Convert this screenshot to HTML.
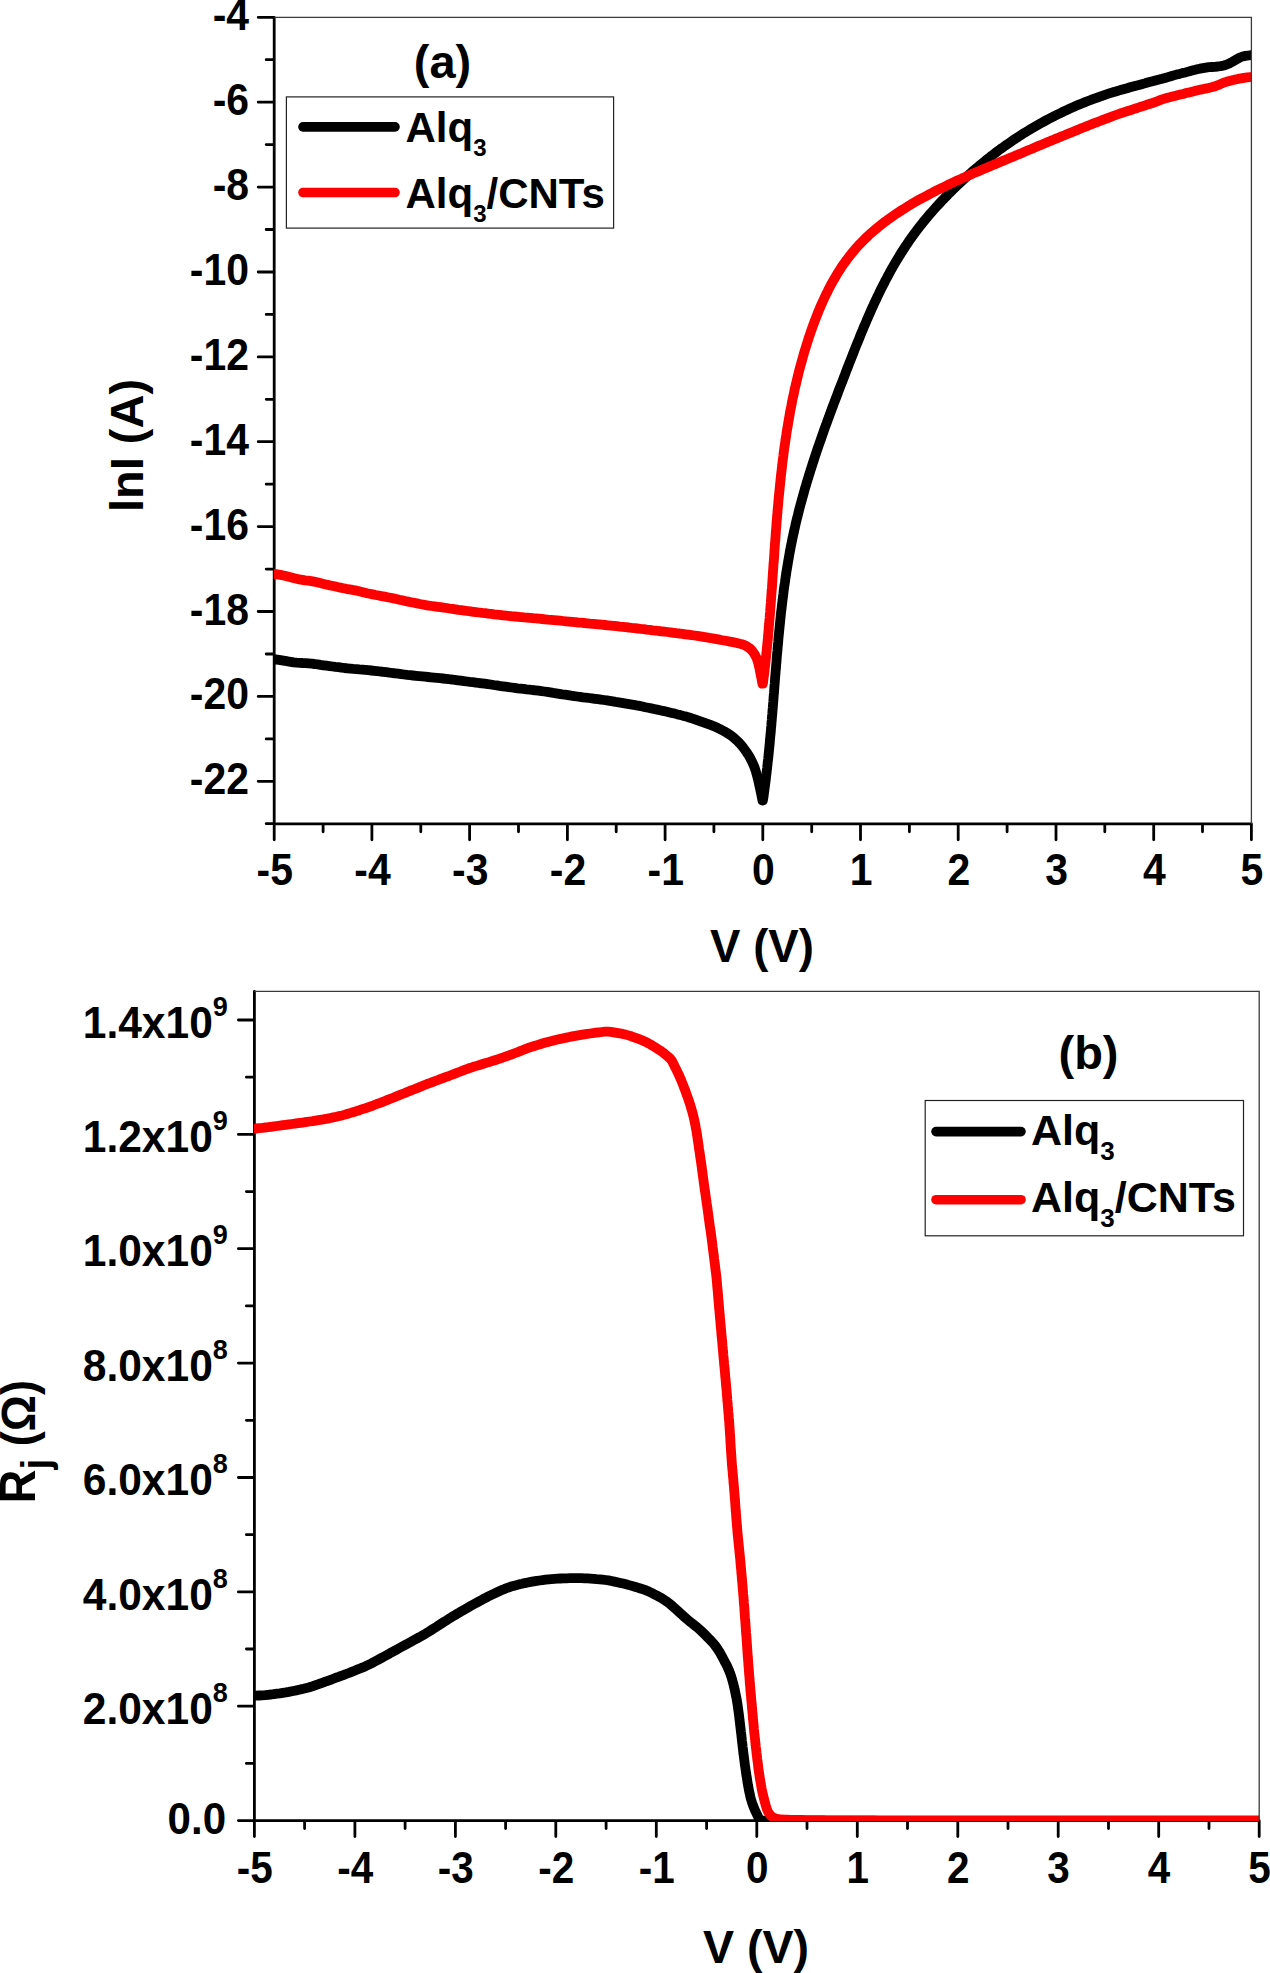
<!DOCTYPE html>
<html><head><meta charset="utf-8"><title>Alq3 plots</title>
<style>html,body{margin:0;padding:0;background:#fff;width:1270px;height:1973px;overflow:hidden}svg{display:block}</style>
</head><body>
<svg width="1270" height="1973" viewBox="0 0 1270 1973"><clipPath id="ca"><rect x="273.7" y="17.3" width="977.7" height="807.3000000000001"/></clipPath>
<clipPath id="cb"><rect x="253.9" y="991.4" width="1005.3000000000001" height="829.6"/></clipPath>
<path d="M274.2,17.3 V823.8 M274.2,823.8 H1251.4 M258.2,17.3 H274.2 M266.2,59.7 H274.2 M258.2,102.2 H274.2 M266.2,144.6 H274.2 M258.2,187.1 H274.2 M266.2,229.5 H274.2 M258.2,272.0 H274.2 M266.2,314.4 H274.2 M258.2,356.9 H274.2 M266.2,399.3 H274.2 M258.2,441.7 H274.2 M266.2,484.2 H274.2 M258.2,526.6 H274.2 M266.2,569.1 H274.2 M258.2,611.5 H274.2 M266.2,654.0 H274.2 M258.2,696.4 H274.2 M266.2,738.9 H274.2 M258.2,781.3 H274.2 M266.2,823.7 H274.2 M274.2,823.8 V839.8 M323.1,823.8 V831.8 M371.9,823.8 V839.8 M420.8,823.8 V831.8 M469.6,823.8 V839.8 M518.5,823.8 V831.8 M567.4,823.8 V839.8 M616.2,823.8 V831.8 M665.1,823.8 V839.8 M713.9,823.8 V831.8 M762.8,823.8 V839.8 M811.7,823.8 V831.8 M860.5,823.8 V839.8 M909.4,823.8 V831.8 M958.2,823.8 V839.8 M1007.1,823.8 V831.8 M1056.0,823.8 V839.8 M1104.8,823.8 V831.8 M1153.7,823.8 V839.8 M1202.5,823.8 V831.8 M1251.4,823.8 V839.8" fill="none" stroke="#000" stroke-width="2.8" stroke-linecap="round"/>
<text transform="translate(249.0,30.3) scale(0.93,1)" text-anchor="end" font-family="Liberation Sans, sans-serif" font-weight="bold" font-size="44">-4</text>
<text transform="translate(249.0,115.2) scale(0.93,1)" text-anchor="end" font-family="Liberation Sans, sans-serif" font-weight="bold" font-size="44">-6</text>
<text transform="translate(249.0,200.1) scale(0.93,1)" text-anchor="end" font-family="Liberation Sans, sans-serif" font-weight="bold" font-size="44">-8</text>
<text transform="translate(249.0,285.0) scale(0.93,1)" text-anchor="end" font-family="Liberation Sans, sans-serif" font-weight="bold" font-size="44">-10</text>
<text transform="translate(249.0,369.9) scale(0.93,1)" text-anchor="end" font-family="Liberation Sans, sans-serif" font-weight="bold" font-size="44">-12</text>
<text transform="translate(249.0,454.7) scale(0.93,1)" text-anchor="end" font-family="Liberation Sans, sans-serif" font-weight="bold" font-size="44">-14</text>
<text transform="translate(249.0,539.6) scale(0.93,1)" text-anchor="end" font-family="Liberation Sans, sans-serif" font-weight="bold" font-size="44">-16</text>
<text transform="translate(249.0,624.5) scale(0.93,1)" text-anchor="end" font-family="Liberation Sans, sans-serif" font-weight="bold" font-size="44">-18</text>
<text transform="translate(249.0,709.4) scale(0.93,1)" text-anchor="end" font-family="Liberation Sans, sans-serif" font-weight="bold" font-size="44">-20</text>
<text transform="translate(249.0,794.3) scale(0.93,1)" text-anchor="end" font-family="Liberation Sans, sans-serif" font-weight="bold" font-size="44">-22</text>
<text transform="translate(274.8,884.8) scale(0.93,1)" text-anchor="middle" font-family="Liberation Sans, sans-serif" font-weight="bold" font-size="44">-5</text>
<text transform="translate(372.5,884.8) scale(0.93,1)" text-anchor="middle" font-family="Liberation Sans, sans-serif" font-weight="bold" font-size="44">-4</text>
<text transform="translate(470.2,884.8) scale(0.93,1)" text-anchor="middle" font-family="Liberation Sans, sans-serif" font-weight="bold" font-size="44">-3</text>
<text transform="translate(568.0,884.8) scale(0.93,1)" text-anchor="middle" font-family="Liberation Sans, sans-serif" font-weight="bold" font-size="44">-2</text>
<text transform="translate(665.7,884.8) scale(0.93,1)" text-anchor="middle" font-family="Liberation Sans, sans-serif" font-weight="bold" font-size="44">-1</text>
<text transform="translate(763.4,884.8) scale(0.93,1)" text-anchor="middle" font-family="Liberation Sans, sans-serif" font-weight="bold" font-size="44">0</text>
<text transform="translate(861.1,884.8) scale(0.93,1)" text-anchor="middle" font-family="Liberation Sans, sans-serif" font-weight="bold" font-size="44">1</text>
<text transform="translate(958.8,884.8) scale(0.93,1)" text-anchor="middle" font-family="Liberation Sans, sans-serif" font-weight="bold" font-size="44">2</text>
<text transform="translate(1056.6,884.8) scale(0.93,1)" text-anchor="middle" font-family="Liberation Sans, sans-serif" font-weight="bold" font-size="44">3</text>
<text transform="translate(1154.3,884.8) scale(0.93,1)" text-anchor="middle" font-family="Liberation Sans, sans-serif" font-weight="bold" font-size="44">4</text>
<text transform="translate(1252.0,884.8) scale(0.93,1)" text-anchor="middle" font-family="Liberation Sans, sans-serif" font-weight="bold" font-size="44">5</text>
<text transform="translate(762.0,962.0) scale(0.97,1)" text-anchor="middle" font-family="Liberation Sans, sans-serif" font-weight="bold" font-size="47">V (V)</text>
<text transform="translate(143,445.5) rotate(-90)" text-anchor="middle" font-family="Liberation Sans, sans-serif" font-weight="bold" font-size="47">lnI (A)</text>
<text transform="translate(442.5,78.2) scale(1.0,1)" text-anchor="middle" font-family="Liberation Sans, sans-serif" font-weight="bold" font-size="47">(a)</text>
<rect x="286.4" y="96.9" width="327.2" height="131.2" fill="#fff" stroke="#222" stroke-width="1.2"/>
<path d="M303,126.9 H395" stroke="#000" stroke-width="9.6" stroke-linecap="round"/>
<path d="M303,192.5 H395" stroke="#f00" stroke-width="9.6" stroke-linecap="round"/>
<text transform="translate(405.5,141.5) scale(1.0,1)" font-family="Liberation Sans, sans-serif" font-weight="bold" font-size="42">Alq<tspan font-size="24" dy="14">3</tspan></text>
<text transform="translate(405.5,207.8) scale(1.0,1)" font-family="Liberation Sans, sans-serif" font-weight="bold" font-size="42">Alq<tspan font-size="24" dy="14">3</tspan><tspan dy="-14">/CNTs</tspan></text>
<path d="M254.4,991.4 V1820.6 M254.4,1820.6 H1259.2 M238.4,1820.6 H254.4 M246.4,1763.4 H254.4 M238.4,1706.2 H254.4 M246.4,1649.0 H254.4 M238.4,1591.9 H254.4 M246.4,1534.7 H254.4 M238.4,1477.5 H254.4 M246.4,1420.3 H254.4 M238.4,1363.1 H254.4 M246.4,1305.9 H254.4 M238.4,1248.7 H254.4 M246.4,1191.6 H254.4 M238.4,1134.4 H254.4 M246.4,1077.2 H254.4 M238.4,1020.0 H254.4 M254.4,1820.6 V1836.6 M304.6,1820.6 V1828.6 M354.9,1820.6 V1836.6 M405.1,1820.6 V1828.6 M455.4,1820.6 V1836.6 M505.6,1820.6 V1828.6 M555.8,1820.6 V1836.6 M606.1,1820.6 V1828.6 M656.3,1820.6 V1836.6 M706.6,1820.6 V1828.6 M756.8,1820.6 V1836.6 M807.0,1820.6 V1828.6 M857.3,1820.6 V1836.6 M907.5,1820.6 V1828.6 M957.8,1820.6 V1836.6 M1008.0,1820.6 V1828.6 M1058.2,1820.6 V1836.6 M1108.5,1820.6 V1828.6 M1158.7,1820.6 V1836.6 M1209.0,1820.6 V1828.6 M1259.2,1820.6 V1836.6" fill="none" stroke="#000" stroke-width="2.8" stroke-linecap="round"/>
<text transform="translate(226.1,1833.6) scale(0.957,1)" text-anchor="end" font-family="Liberation Sans, sans-serif" font-weight="bold" font-size="44">0.0</text>
<text transform="translate(227.9,1723.9) scale(0.967,1)" text-anchor="end" font-family="Liberation Sans, sans-serif" font-weight="bold" font-size="44">2.0x10<tspan font-size="28" dy="-22">8</tspan></text>
<text transform="translate(227.9,1609.6) scale(0.967,1)" text-anchor="end" font-family="Liberation Sans, sans-serif" font-weight="bold" font-size="44">4.0x10<tspan font-size="28" dy="-22">8</tspan></text>
<text transform="translate(227.9,1495.2) scale(0.967,1)" text-anchor="end" font-family="Liberation Sans, sans-serif" font-weight="bold" font-size="44">6.0x10<tspan font-size="28" dy="-22">8</tspan></text>
<text transform="translate(227.9,1380.8) scale(0.967,1)" text-anchor="end" font-family="Liberation Sans, sans-serif" font-weight="bold" font-size="44">8.0x10<tspan font-size="28" dy="-22">8</tspan></text>
<text transform="translate(227.9,1266.4) scale(0.967,1)" text-anchor="end" font-family="Liberation Sans, sans-serif" font-weight="bold" font-size="44">1.0x10<tspan font-size="28" dy="-22">9</tspan></text>
<text transform="translate(227.9,1152.1) scale(0.967,1)" text-anchor="end" font-family="Liberation Sans, sans-serif" font-weight="bold" font-size="44">1.2x10<tspan font-size="28" dy="-22">9</tspan></text>
<text transform="translate(227.9,1037.7) scale(0.967,1)" text-anchor="end" font-family="Liberation Sans, sans-serif" font-weight="bold" font-size="44">1.4x10<tspan font-size="28" dy="-22">9</tspan></text>
<text transform="translate(254.8,1883.3) scale(0.92,1)" text-anchor="middle" font-family="Liberation Sans, sans-serif" font-weight="bold" font-size="44">-5</text>
<text transform="translate(355.3,1883.3) scale(0.92,1)" text-anchor="middle" font-family="Liberation Sans, sans-serif" font-weight="bold" font-size="44">-4</text>
<text transform="translate(455.8,1883.3) scale(0.92,1)" text-anchor="middle" font-family="Liberation Sans, sans-serif" font-weight="bold" font-size="44">-3</text>
<text transform="translate(556.2,1883.3) scale(0.92,1)" text-anchor="middle" font-family="Liberation Sans, sans-serif" font-weight="bold" font-size="44">-2</text>
<text transform="translate(656.7,1883.3) scale(0.92,1)" text-anchor="middle" font-family="Liberation Sans, sans-serif" font-weight="bold" font-size="44">-1</text>
<text transform="translate(757.2,1883.3) scale(0.92,1)" text-anchor="middle" font-family="Liberation Sans, sans-serif" font-weight="bold" font-size="44">0</text>
<text transform="translate(857.7,1883.3) scale(0.92,1)" text-anchor="middle" font-family="Liberation Sans, sans-serif" font-weight="bold" font-size="44">1</text>
<text transform="translate(958.2,1883.3) scale(0.92,1)" text-anchor="middle" font-family="Liberation Sans, sans-serif" font-weight="bold" font-size="44">2</text>
<text transform="translate(1058.6,1883.3) scale(0.92,1)" text-anchor="middle" font-family="Liberation Sans, sans-serif" font-weight="bold" font-size="44">3</text>
<text transform="translate(1159.1,1883.3) scale(0.92,1)" text-anchor="middle" font-family="Liberation Sans, sans-serif" font-weight="bold" font-size="44">4</text>
<text transform="translate(1259.6,1883.3) scale(0.92,1)" text-anchor="middle" font-family="Liberation Sans, sans-serif" font-weight="bold" font-size="44">5</text>
<text transform="translate(756.0,1963.0) scale(0.99,1)" text-anchor="middle" font-family="Liberation Sans, sans-serif" font-weight="bold" font-size="47">V (V)</text>
<text transform="translate(35,1503.5) rotate(-90) scale(0.94,1)" font-family="Liberation Sans, sans-serif" font-weight="bold" font-size="50">R<tspan font-size="41" dy="15">j</tspan><tspan font-size="48" dy="-15"> (&#937;)</tspan></text>
<text transform="translate(1088.5,1069.0) scale(1.0,1)" text-anchor="middle" font-family="Liberation Sans, sans-serif" font-weight="bold" font-size="47">(b)</text>
<rect x="925.2" y="1100.5" width="318.3" height="135.3" fill="#fff" stroke="#222" stroke-width="1.2"/>
<path d="M936,1131.6 H1021" stroke="#000" stroke-width="9.6" stroke-linecap="round"/>
<path d="M936,1199.7 H1021" stroke="#f00" stroke-width="9.6" stroke-linecap="round"/>
<text transform="translate(1031.0,1145.0) scale(1.0,1)" font-family="Liberation Sans, sans-serif" font-weight="bold" font-size="43">Alq<tspan font-size="26" dy="15">3</tspan></text>
<text transform="translate(1031.0,1212.0) scale(1.0,1)" font-family="Liberation Sans, sans-serif" font-weight="bold" font-size="43">Alq<tspan font-size="26" dy="15">3</tspan><tspan dy="-15">/CNTs</tspan></text>
<path d="M270.0,659.0 L273.0,659.2 L276.0,659.5 L279.0,659.8 L281.9,660.3 L284.9,660.8 L287.8,661.4 L290.7,661.9 L293.7,662.4 L296.7,662.7 L299.6,662.8 L302.6,663.0 L305.6,663.1 L308.6,663.4 L311.6,663.7 L314.6,664.0 L317.6,664.4 L320.6,664.9 L323.5,665.3 L326.5,665.7 L329.5,666.1 L332.5,666.5 L335.4,666.9 L338.4,667.2 L341.4,667.6 L344.4,668.0 L347.4,668.3 L350.4,668.6 L353.4,668.9 L356.4,669.1 L359.4,669.4 L362.4,669.6 L365.3,669.9 L368.3,670.2 L371.3,670.5 L374.3,670.8 L377.3,671.1 L380.3,671.5 L383.3,671.8 L386.3,672.2 L389.2,672.6 L392.2,673.0 L395.2,673.3 L398.2,673.7 L401.2,674.1 L404.1,674.5 L407.1,674.9 L410.1,675.2 L413.1,675.5 L416.1,675.8 L419.1,676.1 L422.1,676.4 L425.1,676.7 L428.1,677.0 L431.0,677.3 L434.0,677.6 L437.0,677.9 L440.0,678.2 L443.0,678.5 L446.0,678.8 L449.0,679.2 L452.0,679.5 L454.9,679.9 L457.9,680.3 L460.9,680.7 L463.9,681.1 L466.9,681.5 L469.8,681.9 L472.8,682.2 L475.8,682.6 L478.8,683.0 L481.8,683.3 L484.8,683.7 L487.7,684.1 L490.7,684.5 L493.7,685.0 L496.7,685.4 L499.6,685.9 L502.6,686.3 L505.6,686.7 L508.6,687.1 L511.5,687.5 L514.5,687.9 L517.5,688.3 L520.5,688.6 L523.5,688.9 L526.5,689.3 L529.5,689.6 L532.4,690.0 L535.4,690.3 L538.4,690.7 L541.4,691.1 L544.4,691.5 L547.3,691.9 L550.3,692.4 L553.3,692.9 L556.2,693.3 L559.2,693.8 L562.2,694.3 L565.1,694.7 L568.1,695.2 L571.1,695.7 L574.1,696.1 L577.0,696.5 L580.0,696.9 L583.0,697.3 L586.0,697.6 L589.0,698.0 L591.9,698.4 L594.9,698.8 L597.9,699.2 L600.9,699.6 L603.9,700.0 L606.8,700.4 L609.8,700.9 L612.8,701.4 L615.7,701.9 L618.7,702.3 L621.7,702.8 L624.6,703.3 L627.6,703.8 L630.6,704.3 L633.5,704.8 L636.5,705.4 L639.4,705.9 L642.4,706.5 L645.3,707.2 L648.3,707.8 L651.2,708.4 L654.1,709.0 L657.1,709.6 L660.0,710.2 L663.0,710.9 L665.9,711.5 L668.8,712.2 L671.7,712.9 L674.7,713.6 L677.6,714.4 L680.5,715.1 L683.4,715.9 L686.3,716.6 L689.2,717.5 L692.0,718.4 L694.9,719.4 L697.7,720.4 L700.5,721.4 L703.4,722.4 L706.2,723.4 L709.0,724.4 L711.8,725.4 L714.6,726.6 L717.3,727.8 L720.1,729.1 L722.7,730.5 L725.3,731.9 L727.9,733.5 L730.4,735.1 L732.8,736.9 L735.0,738.9 L737.3,740.9 L739.4,743.0 L741.4,745.2 L743.2,747.5 L745.0,750.0 L746.7,752.4 L748.4,754.9 L749.9,757.5 L751.3,760.2 L752.6,762.9 L753.8,765.6 L754.9,768.4 L755.8,771.2 L756.6,774.1 L757.4,777.0 L758.1,779.9 L758.8,782.9 L759.4,785.8 L760.1,788.7 L760.7,791.7 L761.3,794.6 L761.9,797.6 L762.4,800.5 L762.9,800.5 L763.4,797.5 L763.8,794.5 L764.2,791.5 L764.6,788.5 L765.0,785.6 L765.4,782.6 L765.8,779.6 L766.1,776.6 L766.5,773.6 L766.8,770.6 L767.2,767.6 L767.5,764.6 L767.8,761.6 L768.2,758.6 L768.5,755.6 L768.8,752.6 L769.1,749.6 L769.4,746.6 L769.7,743.6 L769.9,740.6 L770.2,737.6 L770.5,734.6 L770.8,731.6 L771.0,728.6 L771.3,725.7 L771.5,722.7 L771.8,719.7 L772.0,716.7 L772.3,713.7 L772.5,710.7 L772.8,707.7 L773.0,704.7 L773.3,701.7 L773.5,698.7 L773.7,695.7 L774.0,692.7 L774.2,689.7 L774.4,686.7 L774.7,683.7 L774.9,680.7 L775.1,677.8 L775.4,674.8 L775.6,671.8 L775.9,668.8 L776.1,665.8 L776.4,662.8 L776.6,659.8 L776.8,656.8 L777.1,653.8 L777.4,650.9 L777.6,647.9 L777.9,644.9 L778.2,641.9 L778.4,638.9 L778.7,636.0 L779.0,633.0 L779.3,630.0 L779.6,627.0 L779.9,624.0 L780.2,621.1 L780.5,618.1 L780.8,615.1 L781.1,612.2 L781.5,609.2 L781.8,606.2 L782.2,603.2 L782.5,600.3 L782.9,597.3 L783.3,594.3 L783.6,591.4 L784.0,588.4 L784.4,585.5 L784.9,582.5 L785.3,579.5 L785.7,576.6 L786.2,573.6 L786.6,570.7 L787.1,567.7 L787.6,564.8 L788.1,561.8 L788.6,558.9 L789.1,556.0 L789.6,553.0 L790.2,550.1 L790.7,547.1 L791.3,544.2 L791.9,541.3 L792.5,538.3 L793.1,535.4 L793.8,532.5 L794.4,529.5 L795.1,526.6 L795.7,523.7 L796.4,520.8 L797.1,517.9 L797.9,514.9 L798.6,512.0 L799.3,509.1 L800.1,506.2 L800.9,503.3 L801.7,500.4 L802.5,497.5 L803.3,494.6 L804.1,491.7 L804.9,488.8 L805.8,485.9 L806.6,483.0 L807.5,480.1 L808.4,477.2 L809.3,474.3 L810.2,471.4 L811.1,468.5 L812.0,465.7 L812.9,462.8 L813.9,459.9 L814.8,457.0 L815.8,454.1 L816.7,451.3 L817.7,448.4 L818.7,445.5 L819.7,442.7 L820.7,439.8 L821.7,436.9 L822.7,434.1 L823.7,431.2 L824.7,428.4 L825.7,425.5 L826.8,422.7 L827.8,419.8 L828.9,417.0 L829.9,414.1 L831.0,411.3 L832.0,408.4 L833.1,405.6 L834.1,402.8 L835.2,399.9 L836.3,397.1 L837.4,394.3 L838.4,391.4 L839.5,388.6 L840.6,385.8 L841.7,383.0 L842.8,380.2 L843.9,377.3 L845.0,374.5 L846.0,371.7 L847.1,368.9 L848.2,366.1 L849.3,363.3 L850.4,360.5 L851.5,357.7 L852.6,354.9 L853.7,352.1 L854.8,349.3 L855.9,346.5 L857.0,343.7 L858.2,341.0 L859.3,338.2 L860.4,335.4 L861.5,332.7 L862.7,329.9 L863.8,327.1 L865.0,324.4 L866.2,321.6 L867.3,318.9 L868.5,316.2 L869.7,313.5 L870.9,310.7 L872.1,308.0 L873.4,305.3 L874.6,302.6 L875.9,299.9 L877.1,297.2 L878.4,294.6 L879.7,291.9 L881.0,289.2 L882.3,286.6 L883.7,284.0 L885.0,281.3 L886.4,278.7 L887.8,276.1 L889.2,273.5 L890.6,270.9 L892.1,268.3 L893.5,265.7 L895.0,263.2 L896.5,260.6 L898.1,258.1 L899.6,255.5 L901.2,253.0 L902.8,250.5 L904.4,248.0 L906.0,245.5 L907.7,243.1 L909.4,240.6 L911.1,238.2 L912.8,235.7 L914.6,233.3 L916.4,230.9 L918.2,228.5 L920.0,226.1 L921.9,223.8 L923.8,221.4 L925.7,219.1 L927.6,216.8 L929.6,214.4 L931.6,212.2 L933.6,209.9 L935.6,207.6 L937.7,205.4 L939.8,203.1 L941.8,200.9 L944.0,198.7 L946.1,196.5 L948.2,194.3 L950.4,192.2 L952.5,190.0 L954.7,187.9 L956.9,185.8 L959.1,183.7 L961.3,181.6 L963.5,179.6 L965.7,177.5 L968.0,175.5 L970.3,173.5 L972.5,171.5 L974.8,169.5 L977.1,167.6 L979.4,165.6 L981.7,163.7 L984.1,161.8 L986.4,159.9 L988.8,158.0 L991.1,156.2 L993.5,154.3 L995.9,152.5 L998.3,150.7 L1000.7,148.9 L1003.2,147.2 L1005.6,145.4 L1008.1,143.7 L1010.6,142.0 L1013.0,140.3 L1015.5,138.6 L1018.1,137.0 L1020.6,135.3 L1023.1,133.7 L1025.7,132.1 L1028.2,130.6 L1030.8,129.0 L1033.4,127.5 L1036.0,126.0 L1038.6,124.5 L1041.2,123.0 L1043.8,121.6 L1046.5,120.1 L1049.1,118.7 L1051.8,117.3 L1054.5,116.0 L1057.2,114.6 L1059.9,113.3 L1062.6,112.0 L1065.3,110.7 L1068.0,109.5 L1070.7,108.2 L1073.5,107.0 L1076.2,105.8 L1079.0,104.6 L1081.8,103.5 L1084.5,102.4 L1087.3,101.3 L1090.1,100.2 L1092.9,99.1 L1095.8,98.1 L1098.6,97.1 L1101.4,96.1 L1104.3,95.1 L1107.1,94.2 L1110.0,93.2 L1112.8,92.3 L1115.7,91.5 L1118.6,90.6 L1121.4,89.8 L1124.3,89.0 L1127.2,88.2 L1130.1,87.3 L1133.0,86.5 L1136.0,85.7 L1138.9,85.0 L1141.8,84.2 L1144.7,83.4 L1147.6,82.5 L1150.5,81.7 L1153.4,81.0 L1156.3,80.2 L1159.2,79.5 L1162.1,78.8 L1165.0,78.0 L1167.9,77.1 L1170.8,76.3 L1173.7,75.4 L1176.6,74.6 L1179.5,73.9 L1182.4,73.1 L1185.4,72.4 L1188.3,71.6 L1191.2,70.8 L1194.1,70.1 L1197.0,69.3 L1199.9,68.7 L1202.9,68.2 L1205.9,67.7 L1208.9,67.2 L1211.8,67.0 L1214.9,66.8 L1217.9,66.5 L1220.8,66.1 L1223.8,65.5 L1226.6,64.6 L1229.4,63.4 L1232.0,62.0 L1234.6,60.5 L1237.2,59.0 L1239.8,57.5 L1242.6,56.5 L1245.5,55.9 L1248.5,55.5 L1251.5,55.1 L1254.5,54.9 L1256.0,54.8" fill="none" stroke="#000" stroke-width="9.8" stroke-linejoin="round" stroke-linecap="round" clip-path="url(#ca)"/>
<path d="M270.0,573.5 L273.0,573.9 L276.0,574.2 L278.9,574.7 L281.9,575.2 L284.8,575.8 L287.7,576.5 L290.6,577.2 L293.5,578.0 L296.5,578.7 L299.4,579.4 L302.3,579.9 L305.3,580.4 L308.2,580.7 L311.2,581.1 L314.1,581.6 L317.1,582.2 L320.0,582.9 L322.9,583.7 L325.8,584.4 L328.7,585.1 L331.7,585.7 L334.6,586.3 L337.5,587.0 L340.5,587.6 L343.4,588.2 L346.3,588.8 L349.3,589.3 L352.3,589.9 L355.2,590.4 L358.1,591.0 L361.1,591.7 L364.0,592.4 L366.9,593.2 L369.8,593.8 L372.8,594.4 L375.7,595.0 L378.7,595.5 L381.6,596.1 L384.6,596.6 L387.5,597.2 L390.5,597.8 L393.4,598.4 L396.3,599.0 L399.3,599.7 L402.2,600.3 L405.1,601.0 L408.1,601.6 L411.0,602.2 L414.0,602.8 L416.9,603.4 L419.9,604.0 L422.8,604.5 L425.8,605.1 L428.7,605.6 L431.7,606.0 L434.7,606.4 L437.7,606.8 L440.6,607.2 L443.6,607.6 L446.6,608.0 L449.6,608.5 L452.5,608.9 L455.5,609.3 L458.5,609.8 L461.5,610.2 L464.4,610.6 L467.4,611.0 L470.4,611.4 L473.4,611.8 L476.4,612.2 L479.3,612.5 L482.3,612.9 L485.3,613.2 L488.3,613.6 L491.3,613.9 L494.3,614.3 L497.2,614.6 L500.2,615.0 L503.2,615.3 L506.2,615.6 L509.2,616.0 L512.2,616.3 L515.2,616.5 L518.2,616.8 L521.2,617.1 L524.2,617.4 L527.1,617.6 L530.1,617.9 L533.1,618.2 L536.1,618.4 L539.1,618.7 L542.1,619.0 L545.1,619.3 L548.1,619.6 L551.1,619.8 L554.1,620.1 L557.1,620.4 L560.1,620.7 L563.0,621.0 L566.0,621.3 L569.0,621.6 L572.0,621.9 L575.0,622.2 L578.0,622.5 L581.0,622.7 L584.0,623.0 L587.0,623.3 L590.0,623.6 L593.0,623.8 L596.0,624.1 L598.9,624.4 L601.9,624.7 L604.9,625.0 L607.9,625.3 L610.9,625.6 L613.9,625.9 L616.9,626.2 L619.9,626.6 L622.9,626.9 L625.8,627.2 L628.8,627.5 L631.8,627.9 L634.8,628.2 L637.8,628.5 L640.8,628.9 L643.8,629.2 L646.7,629.6 L649.7,629.9 L652.7,630.3 L655.7,630.6 L658.7,631.0 L661.7,631.3 L664.7,631.7 L667.6,632.0 L670.6,632.4 L673.6,632.8 L676.6,633.2 L679.6,633.5 L682.5,633.9 L685.5,634.3 L688.5,634.7 L691.5,635.1 L694.5,635.5 L697.4,635.9 L700.4,636.3 L703.4,636.8 L706.3,637.3 L709.3,637.9 L712.3,638.4 L715.2,638.9 L718.2,639.4 L721.1,640.0 L724.1,640.5 L727.0,641.0 L730.0,641.6 L732.9,642.1 L735.9,642.7 L738.8,643.4 L741.7,644.2 L744.5,645.2 L747.1,646.5 L749.5,648.1 L751.6,650.1 L753.4,652.4 L755.0,654.9 L756.3,657.5 L757.4,660.3 L758.2,663.1 L758.9,666.0 L759.6,669.0 L760.1,671.9 L760.7,674.9 L761.3,677.8 L761.8,680.8 L762.4,683.7 L762.9,683.7 L763.3,680.8 L763.6,677.8 L764.0,674.8 L764.4,671.9 L764.7,668.9 L765.1,665.9 L765.4,662.9 L765.7,660.0 L766.0,657.0 L766.3,654.0 L766.6,651.0 L766.9,648.0 L767.2,645.1 L767.5,642.1 L767.8,639.1 L768.1,636.1 L768.3,633.1 L768.6,630.1 L768.8,627.1 L769.1,624.1 L769.3,621.2 L769.6,618.2 L769.8,615.2 L770.1,612.2 L770.3,609.2 L770.5,606.2 L770.8,603.2 L771.0,600.2 L771.2,597.2 L771.4,594.2 L771.6,591.2 L771.9,588.2 L772.1,585.2 L772.3,582.2 L772.5,579.2 L772.7,576.2 L772.9,573.2 L773.1,570.1 L773.3,567.1 L773.5,564.1 L773.8,561.1 L774.0,558.1 L774.2,555.1 L774.4,552.1 L774.6,549.1 L774.8,546.1 L775.0,543.1 L775.3,540.1 L775.5,537.1 L775.7,534.1 L775.9,531.1 L776.2,528.1 L776.4,525.1 L776.6,522.1 L776.9,519.1 L777.1,516.1 L777.4,513.1 L777.6,510.1 L777.9,507.1 L778.2,504.1 L778.4,501.1 L778.7,498.1 L779.0,495.1 L779.3,492.1 L779.6,489.1 L779.9,486.1 L780.2,483.1 L780.5,480.1 L780.8,477.2 L781.1,474.2 L781.5,471.2 L781.8,468.2 L782.2,465.2 L782.5,462.2 L782.9,459.2 L783.3,456.3 L783.6,453.3 L784.0,450.3 L784.4,447.3 L784.9,444.4 L785.3,441.4 L785.7,438.4 L786.2,435.5 L786.6,432.5 L787.1,429.5 L787.6,426.6 L788.1,423.6 L788.6,420.7 L789.1,417.7 L789.6,414.8 L790.1,411.8 L790.7,408.9 L791.3,405.9 L791.8,403.0 L792.4,400.1 L793.0,397.1 L793.7,394.2 L794.3,391.3 L794.9,388.3 L795.6,385.4 L796.3,382.5 L797.0,379.6 L797.7,376.6 L798.4,373.7 L799.1,370.8 L799.9,367.9 L800.7,365.0 L801.5,362.1 L802.3,359.2 L803.1,356.3 L803.9,353.4 L804.8,350.5 L805.7,347.6 L806.6,344.8 L807.5,341.9 L808.4,339.0 L809.3,336.1 L810.3,333.3 L811.3,330.4 L812.3,327.6 L813.3,324.7 L814.4,321.9 L815.5,319.0 L816.6,316.2 L817.7,313.4 L818.8,310.6 L820.0,307.8 L821.2,305.0 L822.4,302.3 L823.7,299.5 L824.9,296.8 L826.2,294.1 L827.6,291.4 L828.9,288.7 L830.3,286.0 L831.7,283.4 L833.2,280.8 L834.7,278.2 L836.2,275.6 L837.7,273.1 L839.3,270.6 L840.9,268.1 L842.6,265.6 L844.3,263.2 L846.0,260.8 L847.8,258.4 L849.5,256.1 L851.4,253.7 L853.3,251.5 L855.2,249.2 L857.1,247.0 L859.1,244.8 L861.2,242.7 L863.2,240.6 L865.3,238.5 L867.5,236.5 L869.6,234.4 L871.8,232.5 L874.1,230.5 L876.4,228.6 L878.7,226.7 L881.0,224.9 L883.3,223.0 L885.7,221.2 L888.1,219.5 L890.6,217.7 L893.0,216.0 L895.5,214.3 L898.0,212.6 L900.5,211.0 L903.0,209.4 L905.6,207.8 L908.1,206.2 L910.7,204.6 L913.3,203.1 L915.9,201.6 L918.5,200.1 L921.2,198.6 L923.8,197.2 L926.5,195.8 L929.1,194.4 L931.8,193.0 L934.4,191.6 L937.1,190.2 L939.8,188.9 L942.5,187.6 L945.2,186.3 L947.9,185.0 L950.6,183.7 L953.3,182.4 L956.0,181.1 L958.7,179.9 L961.5,178.7 L964.2,177.4 L966.9,176.2 L969.7,175.0 L972.4,173.8 L975.2,172.6 L978.0,171.4 L980.7,170.2 L983.5,169.0 L986.3,167.9 L989.0,166.7 L991.8,165.5 L994.6,164.4 L997.4,163.2 L1000.2,162.0 L1002.9,160.9 L1005.7,159.7 L1008.5,158.5 L1011.3,157.4 L1014.1,156.2 L1016.9,155.0 L1019.7,153.9 L1022.5,152.7 L1025.3,151.5 L1028.1,150.3 L1030.9,149.2 L1033.7,148.0 L1036.5,146.8 L1039.3,145.6 L1042.1,144.5 L1045.0,143.3 L1047.8,142.1 L1050.6,140.9 L1053.4,139.8 L1056.2,138.6 L1059.0,137.5 L1061.8,136.3 L1064.6,135.2 L1067.4,134.0 L1070.2,132.9 L1073.0,131.7 L1075.8,130.6 L1078.5,129.5 L1081.3,128.3 L1084.1,127.2 L1086.9,126.1 L1089.7,125.0 L1092.5,123.9 L1095.2,122.8 L1098.0,121.8 L1100.8,120.7 L1103.5,119.6 L1106.3,118.6 L1109.0,117.6 L1111.8,116.5 L1114.5,115.5 L1117.3,114.5 L1120.0,113.5 L1122.9,112.6 L1125.7,111.7 L1128.6,110.8 L1131.5,109.8 L1134.3,108.9 L1137.2,108.0 L1140.0,107.0 L1142.9,106.1 L1145.8,105.2 L1148.6,104.2 L1151.5,103.3 L1154.3,102.3 L1157.1,101.3 L1160.0,100.2 L1162.8,99.2 L1165.6,98.3 L1168.6,97.5 L1171.5,96.8 L1174.4,96.1 L1177.3,95.3 L1180.2,94.6 L1183.1,93.9 L1186.1,93.1 L1189.0,92.4 L1191.9,91.7 L1194.8,91.0 L1197.8,90.3 L1200.7,89.6 L1203.6,89.0 L1206.6,88.4 L1209.5,87.7 L1212.4,87.0 L1215.3,86.2 L1218.1,85.2 L1220.9,83.9 L1223.6,82.7 L1226.4,81.8 L1229.3,81.0 L1232.3,80.3 L1235.2,79.6 L1238.1,78.9 L1241.1,78.3 L1244.0,77.8 L1247.0,77.4 L1250.0,77.2 L1253.0,77.1 L1256.0,77.0" fill="none" stroke="#f00" stroke-width="9.8" stroke-linejoin="round" stroke-linecap="round" clip-path="url(#ca)"/>
<path d="M250.0,1696.0 L253.0,1695.8 L256.0,1695.7 L259.0,1695.5 L262.0,1695.3 L265.0,1695.1 L268.0,1694.8 L271.0,1694.5 L274.0,1694.1 L276.9,1693.7 L279.9,1693.3 L282.9,1692.8 L285.9,1692.4 L288.8,1691.9 L291.8,1691.3 L294.7,1690.7 L297.6,1690.1 L300.6,1689.4 L303.5,1688.8 L306.4,1688.1 L309.3,1687.3 L312.2,1686.4 L315.0,1685.4 L317.9,1684.4 L320.7,1683.4 L323.5,1682.4 L326.3,1681.3 L329.2,1680.3 L332.0,1679.3 L334.8,1678.2 L337.6,1677.2 L340.4,1676.1 L343.3,1675.1 L346.1,1674.0 L348.9,1673.0 L351.7,1671.9 L354.5,1670.8 L357.3,1669.6 L360.0,1668.5 L362.8,1667.4 L365.6,1666.2 L368.3,1664.9 L371.0,1663.6 L373.7,1662.2 L376.3,1660.8 L378.9,1659.4 L381.6,1657.9 L384.2,1656.5 L386.9,1655.0 L389.5,1653.6 L392.1,1652.1 L394.8,1650.7 L397.4,1649.2 L400.0,1647.8 L402.7,1646.3 L405.3,1644.9 L407.9,1643.5 L410.6,1642.0 L413.2,1640.5 L415.8,1639.1 L418.5,1637.6 L421.1,1636.2 L423.7,1634.7 L426.3,1633.2 L428.9,1631.6 L431.4,1630.0 L433.9,1628.4 L436.5,1626.8 L439.0,1625.1 L441.5,1623.5 L444.0,1621.9 L446.6,1620.3 L449.1,1618.7 L451.7,1617.1 L454.3,1615.6 L456.8,1614.0 L459.4,1612.5 L462.0,1610.9 L464.6,1609.4 L467.2,1607.9 L469.8,1606.4 L472.4,1605.0 L475.1,1603.5 L477.7,1602.1 L480.4,1600.7 L483.0,1599.2 L485.7,1597.8 L488.3,1596.4 L491.0,1595.1 L493.7,1593.8 L496.5,1592.5 L499.2,1591.3 L501.9,1590.1 L504.7,1588.9 L507.5,1587.8 L510.3,1586.8 L513.2,1585.9 L516.1,1585.2 L519.0,1584.4 L521.9,1583.8 L524.8,1583.1 L527.8,1582.5 L530.7,1581.9 L533.7,1581.4 L536.7,1580.9 L539.6,1580.5 L542.6,1580.1 L545.6,1579.7 L548.6,1579.3 L551.6,1579.1 L554.6,1578.9 L557.6,1578.7 L560.6,1578.5 L563.6,1578.4 L566.6,1578.3 L569.6,1578.2 L572.6,1578.2 L575.6,1578.2 L578.6,1578.2 L581.6,1578.2 L584.6,1578.3 L587.6,1578.4 L590.6,1578.6 L593.6,1578.8 L596.6,1579.1 L599.6,1579.3 L602.6,1579.6 L605.5,1580.0 L608.5,1580.4 L611.5,1581.0 L614.4,1581.6 L617.3,1582.2 L620.3,1582.9 L623.2,1583.6 L626.1,1584.3 L629.0,1585.1 L631.9,1585.9 L634.8,1586.7 L637.7,1587.6 L640.5,1588.5 L643.4,1589.4 L646.2,1590.4 L648.9,1591.6 L651.6,1592.9 L654.3,1594.3 L657.0,1595.7 L659.6,1597.1 L662.2,1598.6 L664.7,1600.2 L667.2,1601.9 L669.6,1603.7 L671.9,1605.6 L674.1,1607.6 L676.4,1609.6 L678.6,1611.6 L680.8,1613.7 L683.0,1615.7 L685.3,1617.7 L687.5,1619.6 L689.8,1621.6 L692.2,1623.4 L694.6,1625.3 L696.9,1627.1 L699.2,1629.1 L701.4,1631.1 L703.6,1633.2 L705.7,1635.3 L707.8,1637.5 L709.9,1639.6 L711.9,1641.8 L713.9,1644.0 L715.8,1646.4 L717.5,1648.8 L719.1,1651.3 L720.6,1653.9 L722.1,1656.6 L723.5,1659.2 L724.9,1661.9 L726.3,1664.5 L727.6,1667.2 L728.8,1669.9 L729.9,1672.7 L730.9,1675.5 L731.8,1678.4 L732.6,1681.3 L733.4,1684.2 L734.1,1687.1 L734.8,1690.0 L735.4,1693.0 L736.0,1695.9 L736.6,1698.9 L737.1,1701.8 L737.6,1704.8 L738.0,1707.8 L738.4,1710.8 L738.8,1713.7 L739.2,1716.7 L739.5,1719.7 L739.9,1722.7 L740.2,1725.7 L740.6,1728.7 L740.9,1731.6 L741.3,1734.6 L741.6,1737.6 L741.9,1740.6 L742.3,1743.6 L742.6,1746.6 L743.0,1749.6 L743.3,1752.5 L743.7,1755.5 L744.1,1758.5 L744.5,1761.5 L744.8,1764.5 L745.3,1767.5 L745.7,1770.4 L746.1,1773.4 L746.6,1776.4 L747.1,1779.3 L747.5,1782.3 L748.0,1785.3 L748.6,1788.2 L749.1,1791.2 L749.8,1794.1 L750.4,1797.0 L751.2,1799.9 L752.1,1802.8 L753.1,1805.6 L754.2,1808.4 L755.4,1811.2 L756.7,1813.9 L758.0,1816.6 L759.3,1819.3 L761.5,1820.6 L764.5,1820.6 L767.5,1820.6 L770.5,1820.6 L773.5,1820.6 L776.5,1820.6 L779.5,1820.6 L782.5,1820.6 L785.6,1820.6 L788.6,1820.6 L791.6,1820.6 L794.6,1820.6 L797.6,1820.6 L800.6,1820.6 L803.6,1820.6 L806.6,1820.6 L809.6,1820.6 L812.6,1820.6 L815.6,1820.6 L818.6,1820.6 L821.6,1820.6 L824.6,1820.6 L827.6,1820.6 L830.6,1820.6 L833.6,1820.6 L836.7,1820.6 L839.7,1820.6 L842.7,1820.6 L845.7,1820.6 L848.7,1820.6 L851.7,1820.6 L854.7,1820.6 L857.7,1820.6 L860.7,1820.6 L863.7,1820.6 L866.7,1820.6 L869.7,1820.6 L872.7,1820.6 L875.7,1820.6 L878.7,1820.6 L881.7,1820.6 L884.7,1820.6 L887.8,1820.6 L890.8,1820.6 L893.8,1820.6 L896.8,1820.6 L899.8,1820.6 L902.8,1820.6 L905.8,1820.6 L908.8,1820.6 L911.8,1820.6 L914.8,1820.6 L917.8,1820.6 L920.8,1820.6 L923.8,1820.6 L926.8,1820.6 L929.8,1820.6 L932.8,1820.6 L935.8,1820.6 L938.9,1820.6 L941.9,1820.6 L944.9,1820.6 L947.9,1820.6 L950.9,1820.6 L953.9,1820.6 L956.9,1820.6 L959.9,1820.6 L962.9,1820.6 L965.9,1820.6 L968.9,1820.6 L971.9,1820.6 L974.9,1820.6 L977.9,1820.6 L980.9,1820.6 L983.9,1820.6 L986.9,1820.6 L990.0,1820.6 L993.0,1820.6 L996.0,1820.6 L999.0,1820.6 L1002.0,1820.6 L1005.0,1820.6 L1008.0,1820.6 L1011.0,1820.6 L1014.0,1820.6 L1017.0,1820.6 L1020.0,1820.6 L1023.0,1820.6 L1026.0,1820.6 L1029.0,1820.6 L1032.0,1820.6 L1035.0,1820.6 L1038.1,1820.6 L1041.1,1820.6 L1044.1,1820.6 L1047.1,1820.6 L1050.1,1820.6 L1053.1,1820.6 L1056.1,1820.6 L1059.1,1820.6 L1062.1,1820.6 L1065.1,1820.6 L1068.1,1820.6 L1071.1,1820.6 L1074.1,1820.6 L1077.1,1820.6 L1080.1,1820.6 L1083.1,1820.6 L1086.1,1820.6 L1089.2,1820.6 L1092.2,1820.6 L1095.2,1820.6 L1098.2,1820.6 L1101.2,1820.6 L1104.2,1820.6 L1107.2,1820.6 L1110.2,1820.6 L1113.2,1820.6 L1116.2,1820.6 L1119.2,1820.6 L1122.2,1820.6 L1125.2,1820.6 L1128.2,1820.6 L1131.2,1820.6 L1134.2,1820.6 L1137.2,1820.6 L1140.3,1820.6 L1143.3,1820.6 L1146.3,1820.6 L1149.3,1820.6 L1152.3,1820.6 L1155.3,1820.6 L1158.3,1820.6 L1161.3,1820.6 L1164.3,1820.6 L1167.3,1820.6 L1170.3,1820.6 L1173.3,1820.6 L1176.3,1820.6 L1179.3,1820.6 L1182.3,1820.6 L1185.3,1820.6 L1188.3,1820.6 L1191.4,1820.6 L1194.4,1820.6 L1197.4,1820.6 L1200.4,1820.6 L1203.4,1820.6 L1206.4,1820.6 L1209.4,1820.6 L1212.4,1820.6 L1215.4,1820.6 L1218.4,1820.6 L1221.4,1820.6 L1224.4,1820.6 L1227.4,1820.6 L1230.4,1820.6 L1233.4,1820.6 L1236.4,1820.6 L1239.4,1820.6 L1242.5,1820.6 L1245.5,1820.6 L1248.5,1820.6 L1251.5,1820.6 L1254.5,1820.6 L1257.5,1820.6 L1260.5,1820.6 L1263.5,1820.6 L1265.0,1820.6" fill="none" stroke="#000" stroke-width="9.8" stroke-linejoin="round" stroke-linecap="round" clip-path="url(#cb)"/>
<path d="M250.0,1129.2 L253.0,1128.9 L256.0,1128.5 L259.0,1128.2 L262.0,1127.9 L264.9,1127.5 L267.9,1127.2 L270.9,1126.8 L273.9,1126.4 L276.9,1126.0 L279.9,1125.6 L282.8,1125.2 L285.8,1124.8 L288.8,1124.4 L291.8,1124.0 L294.8,1123.6 L297.7,1123.2 L300.7,1122.8 L303.7,1122.4 L306.7,1121.9 L309.6,1121.5 L312.6,1121.1 L315.6,1120.6 L318.6,1120.1 L321.5,1119.7 L324.5,1119.1 L327.5,1118.6 L330.4,1118.0 L333.3,1117.4 L336.3,1116.8 L339.2,1116.1 L342.1,1115.4 L345.0,1114.6 L347.9,1113.7 L350.8,1112.9 L353.7,1112.0 L356.5,1111.1 L359.4,1110.2 L362.3,1109.2 L365.1,1108.3 L367.9,1107.3 L370.8,1106.3 L373.6,1105.3 L376.4,1104.2 L379.3,1103.2 L382.1,1102.1 L384.9,1101.0 L387.6,1099.9 L390.4,1098.8 L393.2,1097.7 L396.0,1096.5 L398.8,1095.4 L401.6,1094.3 L404.4,1093.2 L407.2,1092.0 L410.0,1090.9 L412.8,1089.8 L415.6,1088.7 L418.4,1087.6 L421.1,1086.5 L423.9,1085.3 L426.7,1084.2 L429.5,1083.2 L432.3,1082.1 L435.2,1081.0 L438.0,1080.0 L440.8,1078.9 L443.6,1077.9 L446.4,1076.8 L449.3,1075.8 L452.1,1074.7 L454.9,1073.6 L457.7,1072.5 L460.5,1071.5 L463.3,1070.4 L466.1,1069.3 L468.9,1068.3 L471.8,1067.4 L474.7,1066.4 L477.5,1065.6 L480.4,1064.7 L483.3,1063.8 L486.2,1062.9 L489.0,1062.1 L491.9,1061.1 L494.8,1060.2 L497.6,1059.3 L500.5,1058.3 L503.3,1057.4 L506.2,1056.4 L509.0,1055.4 L511.8,1054.4 L514.6,1053.3 L517.4,1052.2 L520.2,1051.1 L523.0,1050.0 L525.8,1048.9 L528.6,1047.8 L531.5,1046.9 L534.3,1046.0 L537.2,1045.1 L540.1,1044.2 L543.0,1043.3 L545.9,1042.5 L548.8,1041.7 L551.7,1041.0 L554.6,1040.2 L557.5,1039.5 L560.5,1038.9 L563.4,1038.2 L566.3,1037.6 L569.3,1037.0 L572.2,1036.4 L575.2,1035.9 L578.1,1035.4 L581.1,1034.9 L584.1,1034.4 L587.1,1033.9 L590.0,1033.5 L593.0,1033.1 L596.0,1032.7 L599.0,1032.3 L601.9,1032.0 L604.9,1031.7 L607.9,1031.7 L610.9,1031.9 L613.8,1032.3 L616.8,1032.8 L619.7,1033.3 L622.7,1033.9 L625.6,1034.6 L628.5,1035.4 L631.4,1036.3 L634.2,1037.3 L637.0,1038.3 L639.8,1039.4 L642.6,1040.5 L645.3,1041.7 L648.0,1043.1 L650.6,1044.5 L653.2,1046.1 L655.7,1047.7 L658.3,1049.3 L660.8,1050.9 L663.2,1052.7 L665.6,1054.6 L667.8,1056.5 L670.1,1058.5 L671.9,1060.8 L673.3,1063.5 L674.6,1066.2 L676.0,1068.9 L677.3,1071.6 L678.6,1074.3 L679.8,1077.0 L681.0,1079.8 L682.1,1082.5 L683.2,1085.3 L684.3,1088.1 L685.4,1090.9 L686.4,1093.8 L687.4,1096.6 L688.4,1099.4 L689.4,1102.3 L690.3,1105.1 L691.1,1108.0 L692.0,1110.9 L692.8,1113.8 L693.5,1116.7 L694.2,1119.6 L694.8,1122.5 L695.4,1125.5 L695.9,1128.4 L696.5,1131.4 L696.9,1134.3 L697.4,1137.3 L697.8,1140.3 L698.3,1143.3 L698.7,1146.2 L699.1,1149.2 L699.6,1152.2 L700.0,1155.1 L700.4,1158.1 L700.9,1161.1 L701.3,1164.1 L701.7,1167.0 L702.1,1170.0 L702.5,1173.0 L702.9,1176.0 L703.3,1178.9 L703.7,1181.9 L704.1,1184.9 L704.5,1187.9 L704.9,1190.8 L705.4,1193.8 L705.8,1196.8 L706.2,1199.7 L706.6,1202.7 L707.1,1205.7 L707.5,1208.7 L707.9,1211.6 L708.3,1214.6 L708.7,1217.6 L709.1,1220.6 L709.5,1223.5 L709.9,1226.5 L710.4,1229.5 L710.8,1232.5 L711.2,1235.4 L711.6,1238.4 L712.0,1241.4 L712.4,1244.4 L712.7,1247.3 L713.1,1250.3 L713.5,1253.3 L713.9,1256.3 L714.2,1259.3 L714.6,1262.2 L715.0,1265.2 L715.3,1268.2 L715.7,1271.2 L716.1,1274.2 L716.4,1277.1 L716.7,1280.1 L717.0,1283.1 L717.2,1286.1 L717.5,1289.1 L717.8,1292.1 L718.0,1295.1 L718.3,1298.1 L718.5,1301.1 L718.8,1304.0 L719.0,1307.0 L719.3,1310.0 L719.6,1313.0 L719.8,1316.0 L720.1,1319.0 L720.4,1322.0 L720.6,1325.0 L720.9,1328.0 L721.2,1331.0 L721.4,1334.0 L721.7,1336.9 L722.0,1339.9 L722.3,1342.9 L722.5,1345.9 L722.8,1348.9 L723.1,1351.9 L723.3,1354.9 L723.6,1357.9 L723.9,1360.9 L724.1,1363.9 L724.4,1366.8 L724.7,1369.8 L725.0,1372.8 L725.2,1375.8 L725.5,1378.8 L725.8,1381.8 L726.0,1384.8 L726.3,1387.8 L726.6,1390.8 L726.8,1393.8 L727.1,1396.8 L727.3,1399.7 L727.6,1402.7 L727.8,1405.7 L728.1,1408.7 L728.3,1411.7 L728.6,1414.7 L728.8,1417.7 L729.1,1420.7 L729.3,1423.7 L729.5,1426.7 L729.7,1429.7 L729.9,1432.7 L730.1,1435.7 L730.3,1438.7 L730.4,1441.7 L730.6,1444.7 L730.8,1447.7 L731.0,1450.7 L731.2,1453.6 L731.4,1456.6 L731.6,1459.6 L731.8,1462.6 L732.0,1465.6 L732.3,1468.6 L732.6,1471.6 L732.8,1474.6 L733.1,1477.6 L733.4,1480.6 L733.6,1483.6 L733.9,1486.6 L734.1,1489.5 L734.4,1492.5 L734.6,1495.5 L734.8,1498.5 L735.1,1501.5 L735.3,1504.5 L735.5,1507.5 L735.7,1510.5 L736.0,1513.5 L736.2,1516.5 L736.4,1519.5 L736.7,1522.5 L736.9,1525.5 L737.2,1528.5 L737.4,1531.5 L737.7,1534.4 L738.0,1537.4 L738.3,1540.4 L738.6,1543.4 L738.9,1546.4 L739.2,1549.4 L739.5,1552.4 L739.8,1555.4 L740.1,1558.3 L740.4,1561.3 L740.6,1564.3 L740.9,1567.3 L741.2,1570.3 L741.4,1573.3 L741.7,1576.3 L741.9,1579.3 L742.2,1582.3 L742.5,1585.3 L742.7,1588.3 L743.0,1591.2 L743.2,1594.2 L743.5,1597.2 L743.7,1600.2 L743.9,1603.2 L744.2,1606.2 L744.4,1609.2 L744.6,1612.2 L744.8,1615.2 L745.0,1618.2 L745.3,1621.2 L745.5,1624.2 L745.7,1627.2 L745.9,1630.2 L746.1,1633.2 L746.4,1636.2 L746.6,1639.1 L746.8,1642.1 L747.0,1645.1 L747.2,1648.1 L747.4,1651.1 L747.6,1654.1 L747.8,1657.1 L748.1,1660.1 L748.3,1663.1 L748.5,1666.1 L748.8,1669.1 L749.0,1672.1 L749.2,1675.1 L749.5,1678.1 L749.7,1681.1 L749.9,1684.1 L750.2,1687.0 L750.4,1690.0 L750.7,1693.0 L751.0,1696.0 L751.2,1699.0 L751.5,1702.0 L751.8,1705.0 L752.0,1708.0 L752.3,1711.0 L752.6,1714.0 L752.8,1717.0 L753.1,1719.9 L753.4,1722.9 L753.7,1725.9 L753.9,1728.9 L754.2,1731.9 L754.5,1734.9 L754.9,1737.9 L755.2,1740.9 L755.5,1743.8 L755.8,1746.8 L756.2,1749.8 L756.5,1752.8 L756.9,1755.8 L757.2,1758.8 L757.6,1761.7 L758.0,1764.7 L758.3,1767.7 L758.7,1770.7 L759.2,1773.6 L759.6,1776.6 L760.1,1779.6 L760.6,1782.5 L761.1,1785.5 L761.6,1788.4 L762.2,1791.4 L762.9,1794.3 L763.6,1797.2 L764.3,1800.1 L765.1,1803.0 L765.9,1805.9 L766.8,1808.8 L767.9,1811.5 L769.3,1813.9 L771.1,1816.0 L773.3,1817.6 L775.9,1818.6 L778.7,1819.2 L781.6,1819.5 L784.6,1819.6 L787.6,1819.7 L790.6,1819.8 L793.6,1819.9 L796.6,1819.9 L799.6,1820.0 L802.6,1820.0 L805.6,1820.1 L808.6,1820.1 L811.6,1820.1 L814.6,1820.1 L817.6,1820.2 L820.6,1820.2 L823.7,1820.2 L826.7,1820.3 L829.7,1820.3 L832.7,1820.3 L835.7,1820.4 L838.7,1820.4 L841.7,1820.4 L844.7,1820.4 L847.7,1820.5 L850.7,1820.5 L853.7,1820.5 L856.7,1820.5 L859.7,1820.5 L862.7,1820.5 L865.7,1820.5 L868.7,1820.5 L871.7,1820.5 L874.7,1820.5 L877.7,1820.6 L880.7,1820.6 L883.7,1820.6 L886.7,1820.6 L889.7,1820.6 L892.7,1820.6 L895.7,1820.6 L898.7,1820.6 L901.7,1820.6 L904.7,1820.6 L907.7,1820.6 L910.7,1820.6 L913.7,1820.6 L916.7,1820.6 L919.7,1820.6 L922.7,1820.6 L925.7,1820.6 L928.7,1820.6 L931.7,1820.6 L934.7,1820.6 L937.7,1820.6 L940.7,1820.6 L943.7,1820.6 L946.7,1820.6 L949.7,1820.6 L952.8,1820.6 L955.8,1820.6 L958.8,1820.6 L961.8,1820.6 L964.8,1820.6 L967.8,1820.6 L970.8,1820.6 L973.8,1820.6 L976.8,1820.6 L979.8,1820.6 L982.8,1820.6 L985.8,1820.6 L988.8,1820.6 L991.8,1820.6 L994.8,1820.6 L997.8,1820.6 L1000.8,1820.6 L1003.8,1820.6 L1006.8,1820.6 L1009.8,1820.6 L1012.8,1820.6 L1015.8,1820.6 L1018.8,1820.6 L1021.8,1820.6 L1024.8,1820.6 L1027.8,1820.6 L1030.8,1820.6 L1033.8,1820.6 L1036.8,1820.6 L1039.8,1820.6 L1042.8,1820.6 L1045.8,1820.6 L1048.8,1820.6 L1051.8,1820.6 L1054.8,1820.6 L1057.8,1820.6 L1060.8,1820.6 L1063.8,1820.6 L1066.8,1820.6 L1069.8,1820.6 L1072.8,1820.6 L1075.8,1820.6 L1078.9,1820.6 L1081.9,1820.6 L1084.9,1820.6 L1087.9,1820.6 L1090.9,1820.6 L1093.9,1820.6 L1096.9,1820.6 L1099.9,1820.6 L1102.9,1820.6 L1105.9,1820.6 L1108.9,1820.6 L1111.9,1820.6 L1114.9,1820.6 L1117.9,1820.6 L1120.9,1820.6 L1123.9,1820.6 L1126.9,1820.6 L1129.9,1820.6 L1132.9,1820.6 L1135.9,1820.6 L1138.9,1820.6 L1141.9,1820.6 L1144.9,1820.6 L1147.9,1820.6 L1150.9,1820.6 L1153.9,1820.6 L1156.9,1820.6 L1159.9,1820.6 L1162.9,1820.6 L1165.9,1820.6 L1168.9,1820.6 L1171.9,1820.6 L1174.9,1820.6 L1177.9,1820.6 L1180.9,1820.6 L1183.9,1820.6 L1186.9,1820.6 L1189.9,1820.6 L1192.9,1820.6 L1195.9,1820.6 L1198.9,1820.6 L1201.9,1820.6 L1205.0,1820.6 L1208.0,1820.6 L1211.0,1820.6 L1214.0,1820.6 L1217.0,1820.6 L1220.0,1820.6 L1223.0,1820.6 L1226.0,1820.6 L1229.0,1820.6 L1232.0,1820.6 L1235.0,1820.6 L1238.0,1820.6 L1241.0,1820.6 L1244.0,1820.6 L1247.0,1820.6 L1250.0,1820.6 L1253.0,1820.6 L1256.0,1820.6 L1259.0,1820.6 L1262.0,1820.6 L1265.0,1820.6" fill="none" stroke="#f00" stroke-width="9.8" stroke-linejoin="round" stroke-linecap="round" clip-path="url(#cb)"/>
<path d="M274.2,17.3 H1251.4 V823.8" fill="none" stroke="#3a3a3a" stroke-width="1.3"/>
<path d="M254.4,991.4 H1259.2 V1820.6" fill="none" stroke="#3a3a3a" stroke-width="1.3"/></svg>
</body></html>
